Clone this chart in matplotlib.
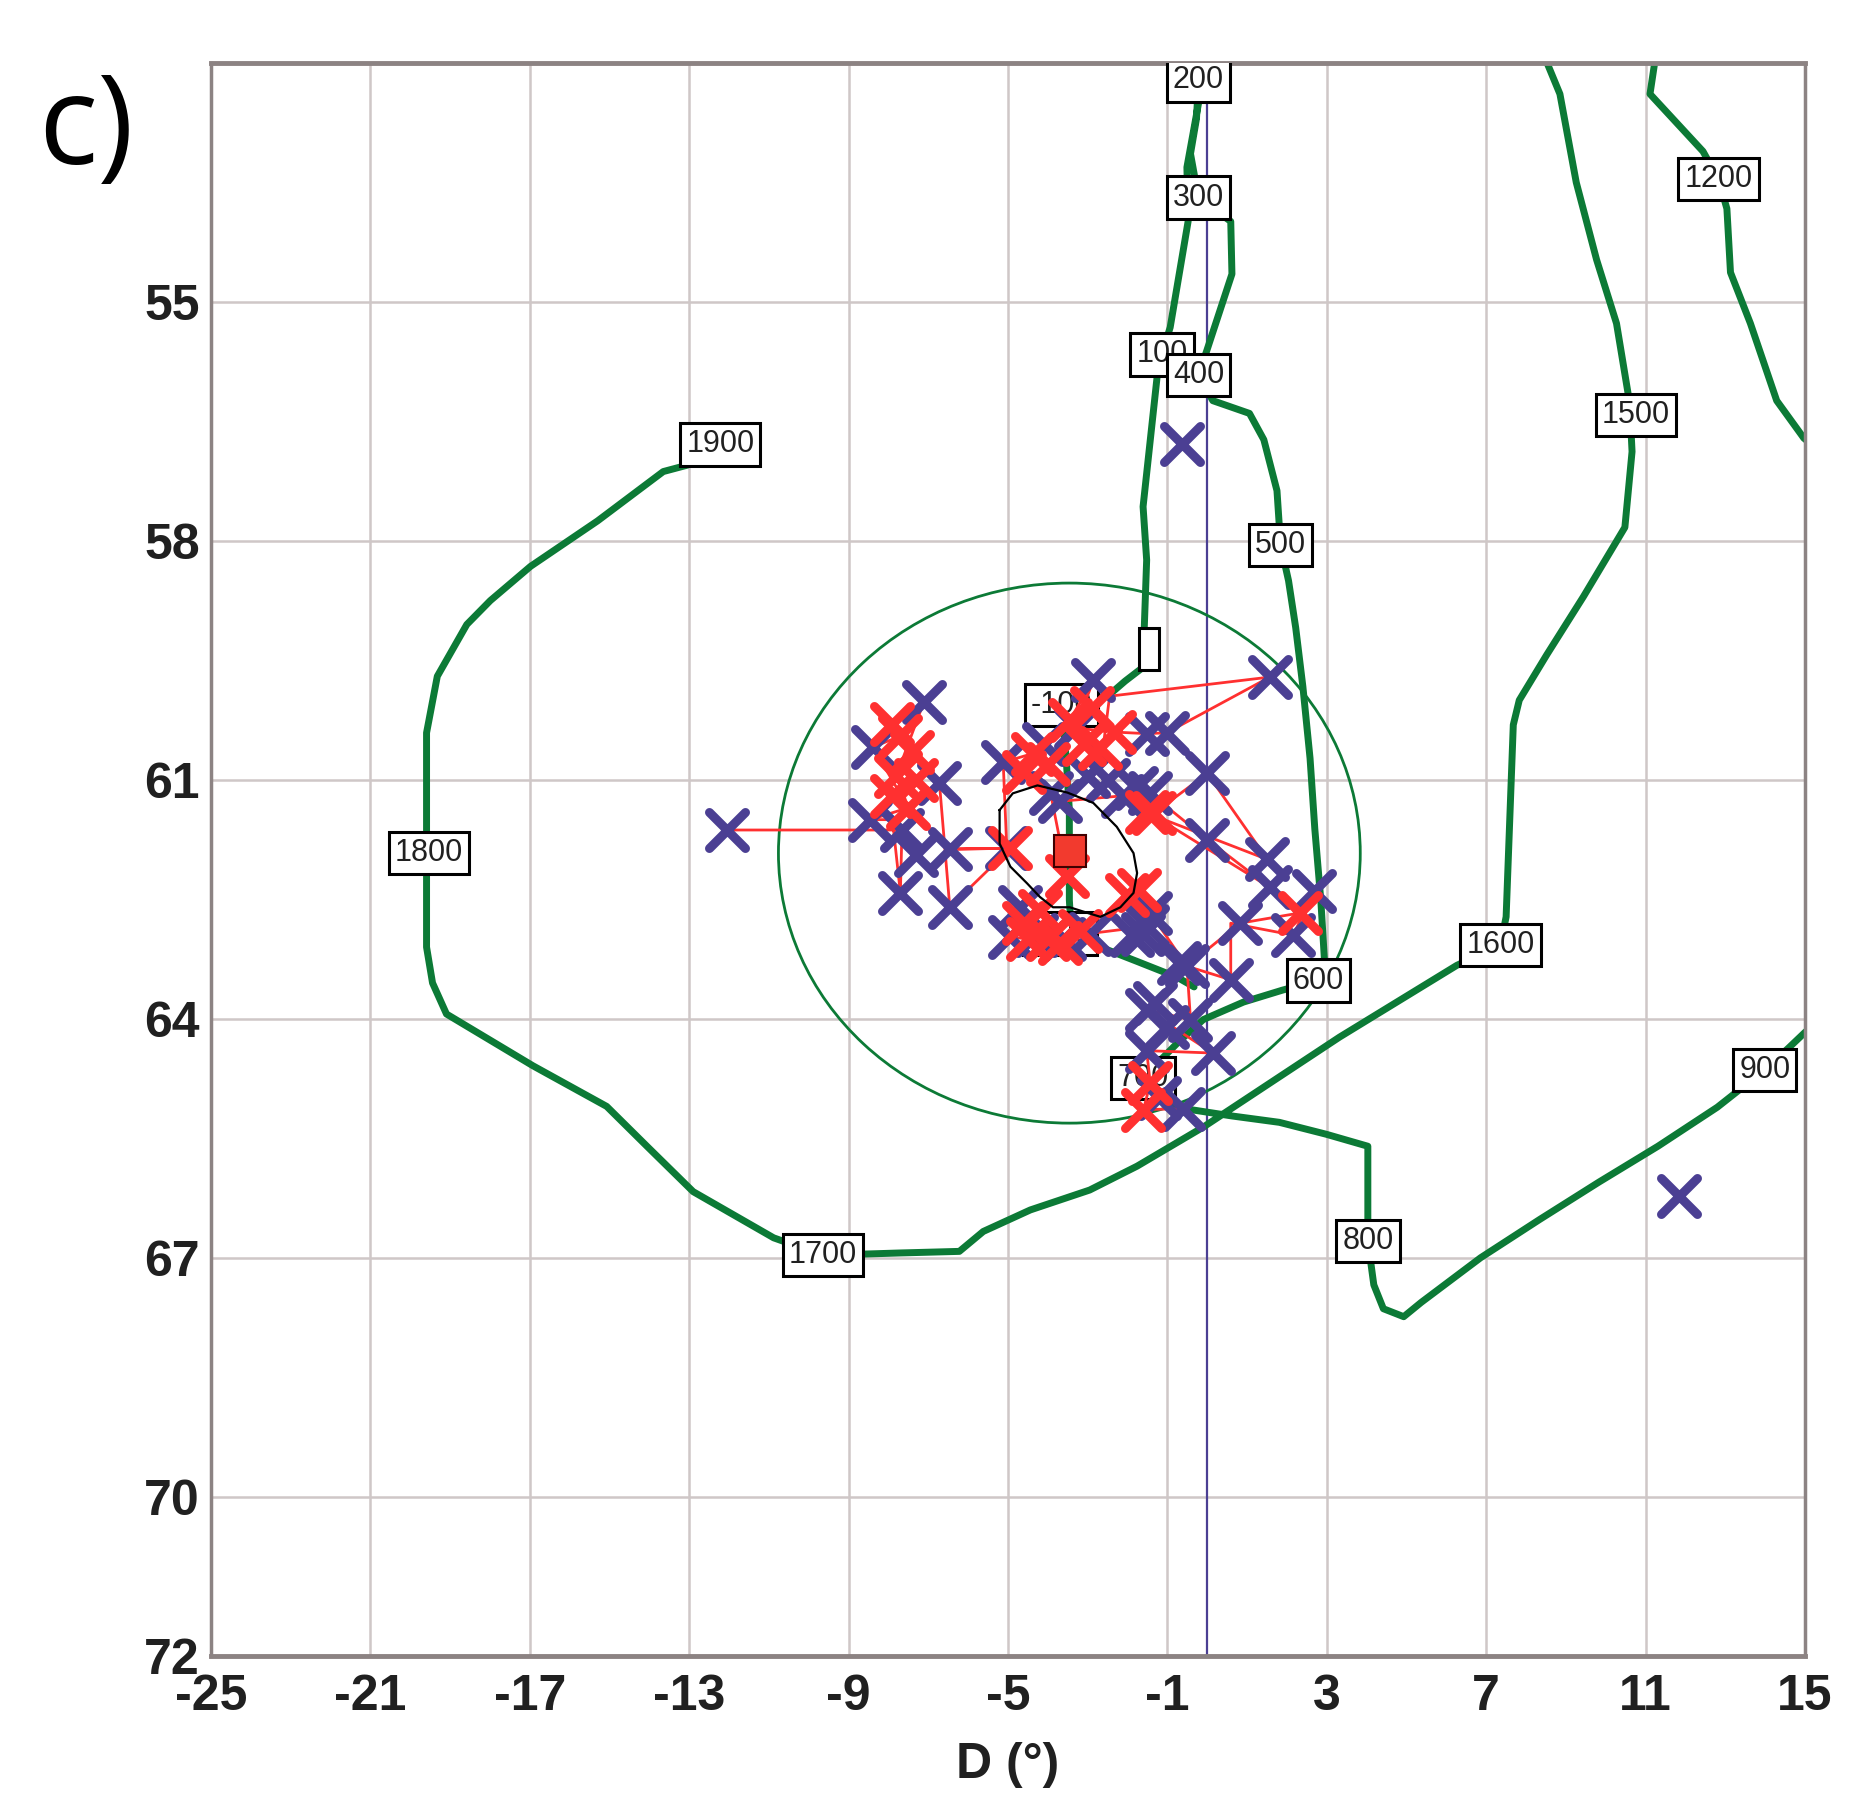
import matplotlib
matplotlib.use("Agg")
import matplotlib.pyplot as plt
from matplotlib.markers import MarkerStyle
from matplotlib.patches import Ellipse

# axes ranges and ticks
x_ticks = [-25, -21, -17, -13, -9, -5, -1, 3, 7, 11, 15]
y_ticks = [55, 58, 61, 64, 67, 70, 72]
x_range = (-25, 15)
y_range = (72, 52)

# green track (time ordered), runs outside the frame where it leaves the view
path_x = [-0.33, -0.75, -1.76, -2.68, -3.40, -3.46, -3.46, -3.46, -3.54, -3.66,
          -2.50, -2.06, -1.67, -1.46, -1.58, -1.52, -1.61, -1.43, -1.26, -1.14,
          -0.93, -0.48, -0.51, -0.22, -0.22, -0.27, -0.42, -0.22, 0.59, 0.62,
          -0.01, -0.22, 0.14, 1.06, 1.42, 1.75, 1.84, 2.04, 2.22, 2.40,
          2.58, 2.70, 2.85, 2.94, 2.79, 1.89, 0.91, -0.10, -0.72, -1.61,
          -1.02, -0.42, 0.62, 1.81, 2.99, 4.03, 4.03, 4.03, 4.18, 4.42,
          4.93, 5.37, 6.86, 8.34, 9.83, 11.31, 12.80, 13.99, 14.58, 15.0,
          16.07, 17.26, 16.07, 14.97, 14.29, 13.63, 13.13, 13.04, 12.83, 12.44,
          11.11, 11.23, 11.23, 9.83, 8.52, 8.52, 8.85, 9.26, 9.77, 10.27,
          10.60, 10.66, 10.48, 9.44, 8.52, 7.83, 7.68, 7.59, 7.50, 7.36,
          6.26, 3.32, -0.10, -1.76, -2.95, -4.44, -5.62, -6.22, -7.71, -9.64,
          -10.88, -12.90, -14.06, -15.07, -16.92, -19.09, -19.44, -19.59, -19.59, -19.59,
          -19.32, -18.58, -17.99, -16.98, -15.30, -13.65, -13.05, -12.22]
path_y = [63.60, 63.48, 63.28, 63.10, 63.00, 62.51, 61.89, 61.38, 60.73, 60.06,
          59.95, 59.76, 59.61, 59.36, 59.09, 58.24, 57.57, 56.74, 55.95, 55.66,
          55.32, 53.99, 53.31, 52.51, 52.22, 52.70, 53.14, 53.69, 53.99, 54.65,
          55.61, 55.92, 56.24, 56.40, 56.73, 57.37, 58.05, 58.50, 59.09, 59.83,
          60.73, 61.62, 62.51, 63.25, 63.52, 63.64, 63.79, 64.01, 64.29, 64.74,
          65.04, 65.14, 65.22, 65.30, 65.45, 65.60, 66.08, 66.79, 67.34, 67.64,
          67.74, 67.56, 67.00, 66.52, 66.05, 65.60, 65.11, 64.64, 64.37, 64.17,
          63.70, 60.13, 57.16, 56.71, 56.24, 55.27, 54.63, 53.83, 53.46, 53.11,
          52.39, 51.99, 51.51, 51.36, 51.66, 51.99, 52.39, 53.50, 54.47, 55.27,
          56.27, 56.88, 57.83, 58.70, 59.43, 60.00, 60.31, 61.51, 62.72, 63.07,
          63.33, 64.23, 65.36, 65.85, 66.15, 66.40, 66.67, 66.92, 66.94, 66.97,
          66.75, 66.17, 65.60, 65.10, 64.59, 63.94, 63.55, 63.10, 61.93, 60.41,
          59.70, 59.05, 58.75, 58.32, 57.75, 57.13, 57.05, 56.79]

# time labels along the track
label_text = ["-200", "-100", " ", "100", "200", "300", "400", "500", "600", "700",
              "800", "900", "1200", "1500", "1600", "1700", "1800", "1900"]
label_x = [-3.69, -3.66, -1.46, -1.14, -0.22, -0.22, -0.22, 1.84, 2.79, -1.61,
           4.03, 13.99, 12.83, 10.76, 7.36, -9.64, -19.53, -12.22]
label_y = [62.93, 60.06, 59.36, 55.66, 52.22, 53.69, 55.92, 58.05, 63.52, 64.74,
           66.79, 64.64, 53.46, 56.42, 63.07, 66.97, 61.92, 56.79]

# red connecting line of the positions
track_x = [-12.04, -8.30, -7.66, -7.70, -7.90, -8.45, -7.50, -8.39, -7.70, -7.11,
           -7.80, -7.50, -6.72, -6.46, -4.94, -6.46, -5.03, -5.12, -4.38, -4.10,
           -3.45, -2.86, -3.30, -2.35, -1.52, -1.02, 1.57, -2.45, -2.68, -2.12,
           -1.34, 0.00, 1.51, -1.34, 1.57, 0.00, -1.43, -3.69, -3.93, -3.52,
           -4.20, -4.94, -4.50, -3.70, -2.95, -1.52, -2.01, -1.70, -1.43, -0.51,
           0.82, 2.34, 2.67, 2.16, 0.59, 0.59, -0.51, -0.42, -1.52, 0.14,
           -1.52, -1.43, -1.60, -0.60]
track_y = [61.63, 61.63, 61.63, 62.42, 61.50, 61.50, 61.35, 60.59, 60.45, 60.02,
           60.95, 61.35, 61.04, 62.60, 61.86, 61.87, 61.86, 60.78, 60.67, 60.55,
           60.25, 59.75, 60.35, 60.40, 60.42, 60.41, 59.71, 59.95, 60.86, 61.20,
           61.42, 60.92, 62.00, 61.45, 62.35, 61.75, 61.17, 61.27, 61.17, 62.21,
           62.65, 62.97, 63.00, 63.05, 62.93, 62.84, 62.45, 62.38, 62.67, 63.34,
           62.80, 62.67, 62.40, 62.95, 62.80, 63.51, 63.34, 64.01, 63.89, 64.43,
           64.40, 64.81, 65.14, 65.13]

# purple crosses
purple_x = [-12.04, -7.11, -8.39, -6.72, -8.45, -7.66, -6.46, -7.70, -6.46, -5.03,
            -5.12, -4.94, -3.69, -2.86, -3.93, -2.12, -1.43, -1.02, -1.52, 1.57,
            0.00, 0.00, 1.51, 1.57, 2.67, 0.82, 2.16, -1.43, -1.60, -2.95,
            -1.52, -0.51, 0.59, -1.52, -0.42, 0.14, -1.52, -0.60, -0.63, 11.85,
            -3.30, -4.10, -3.00, -2.50, -1.80, -4.30, -3.60, -1.90, -0.70, -1.00,
            -1.30, -1.20, -7.30, -4.70]
purple_y = [61.63, 60.02, 60.59, 61.04, 61.50, 61.63, 61.87, 62.42, 62.60, 61.86,
            60.78, 62.97, 61.27, 59.75, 61.17, 61.20, 61.17, 60.41, 60.42, 59.71,
            60.92, 61.75, 62.00, 62.35, 62.40, 62.80, 62.95, 62.67, 62.93, 62.93,
            62.84, 63.34, 63.51, 63.89, 64.01, 64.43, 64.40, 65.13, 56.79, 66.23,
            60.35, 60.55, 60.95, 61.00, 61.10, 62.95, 63.00, 62.95, 63.30, 64.10,
            63.80, 65.00, 61.95, 62.60]

# red crosses
red_x = [-7.70, -7.80, -7.50, -4.94, -4.38, -3.45, -2.35, -1.34, -2.70, 2.34,
         -1.70, -2.01, -4.20, -3.52, -4.50, -3.70, -1.43, -1.60, -7.90, -7.40,
         -7.90, -7.30, -4.60, -4.00, -3.10, -2.90, -1.50, -4.60, -4.00, -3.20]
red_y = [60.45, 60.95, 61.35, 61.86, 60.67, 60.25, 60.40, 61.42, 60.60, 62.67,
         62.38, 62.45, 62.65, 62.21, 63.00, 63.05, 64.81, 65.14, 60.30, 60.65,
         61.20, 61.00, 60.90, 60.80, 60.55, 60.10, 61.40, 62.80, 63.00, 62.90]

# centre estimate, uncertainty loop and search ring
centre_x, centre_y = -3.45, 61.89
loop_x = [-5.21, -4.88, -4.26, -3.51, -2.86, -2.27, -1.85, -1.76, -1.85, -2.18,
          -2.68, -3.01, -3.45, -3.87, -4.20, -4.52, -4.94, -5.21, -5.21]
loop_y = [61.38, 61.17, 61.07, 61.16, 61.29, 61.59, 61.92, 62.17, 62.42, 62.60,
          62.72, 62.67, 62.60, 62.60, 62.47, 62.30, 62.09, 61.80, 61.38]
ring_x, ring_y, ring_w, ring_h = -3.46, 61.92, 14.6, 6.78

GREEN = '#0C7A36'
PURPLE = '#4B3F93'
RED = '#FF3030'
TICK_FONT = 'Liberation Sans'

fig = plt.figure(figsize=(18.57, 18.19), dpi=100)
ax = fig.add_axes([0.1136, 0.0896, 0.8584, 0.8758])

ax.set_xlim(*x_range)
ax.set_ylim(*y_range)
ax.set_xticks(x_ticks)
ax.set_yticks(y_ticks)
ax.set_xticklabels([str(v) for v in x_ticks])
ax.set_yticklabels([str(v) for v in y_ticks])
for lab in ax.get_xticklabels() + ax.get_yticklabels():
    lab.set_fontfamily(TICK_FONT)
    lab.set_fontweight('bold')
    lab.set_fontsize(36)
    lab.set_color('#202020')
ax.tick_params(axis='both', length=0)
ax.tick_params(axis='x', pad=13)
ax.tick_params(axis='y', pad=8)

ax.grid(True, color='#CFC7C7', lw=1.8)
ax.set_axisbelow(True)
for side, spine in ax.spines.items():
    spine.set_color('#8C8383')
    spine.set_linewidth(3.5 if side in ('top', 'bottom') else 2.5)

ax.set_xlabel('D (°)', fontfamily=TICK_FONT, fontweight='bold', fontsize=36, color='#202020')
ax.xaxis.set_label_coords(0.5, -0.054)

# reference meridian
ax.axvline(0, color=PURPLE, lw=1.6, zorder=2)

# track and ring
ax.add_patch(Ellipse((ring_x, ring_y), ring_w, ring_h, fill=False, ec=GREEN, lw=2.0, zorder=2.4))
ax.plot(path_x, path_y, color=GREEN, lw=5, solid_joinstyle='round', solid_capstyle='round', zorder=2.5)

for t, x, y in zip(label_text, label_x, label_y):
    ax.text(x, y, t, ha='center', va='center', fontsize=22, family='Liberation Sans', color='#202020',
            bbox=dict(boxstyle='square,pad=0.2', fc='white', ec='black', lw=2.2),
            zorder=3, clip_on=True)

# positions
ax.plot(track_x, track_y, color=RED, lw=2.0, zorder=4)
xm = MarkerStyle('x', capstyle='round')
ax.plot(purple_x, purple_y, ls='none', marker=xm, ms=26, mew=6.5, color=PURPLE, zorder=5)
ax.plot(red_x, red_y, ls='none', marker=xm, ms=26, mew=6.5, color=RED, zorder=6)

ax.plot(loop_x, loop_y, color='black', lw=1.6, zorder=7)
ax.plot([centre_x], [centre_y], ls='none', marker='s', ms=23, mfc='#F23A2E', mec='#400000', mew=1.5, zorder=8)

fig.text(0.0205, 0.910, 'c)', fontsize=89, family='Open Sans', va='baseline', ha='left', color='black')

fig.savefig('out.png', dpi=100, facecolor='white')
